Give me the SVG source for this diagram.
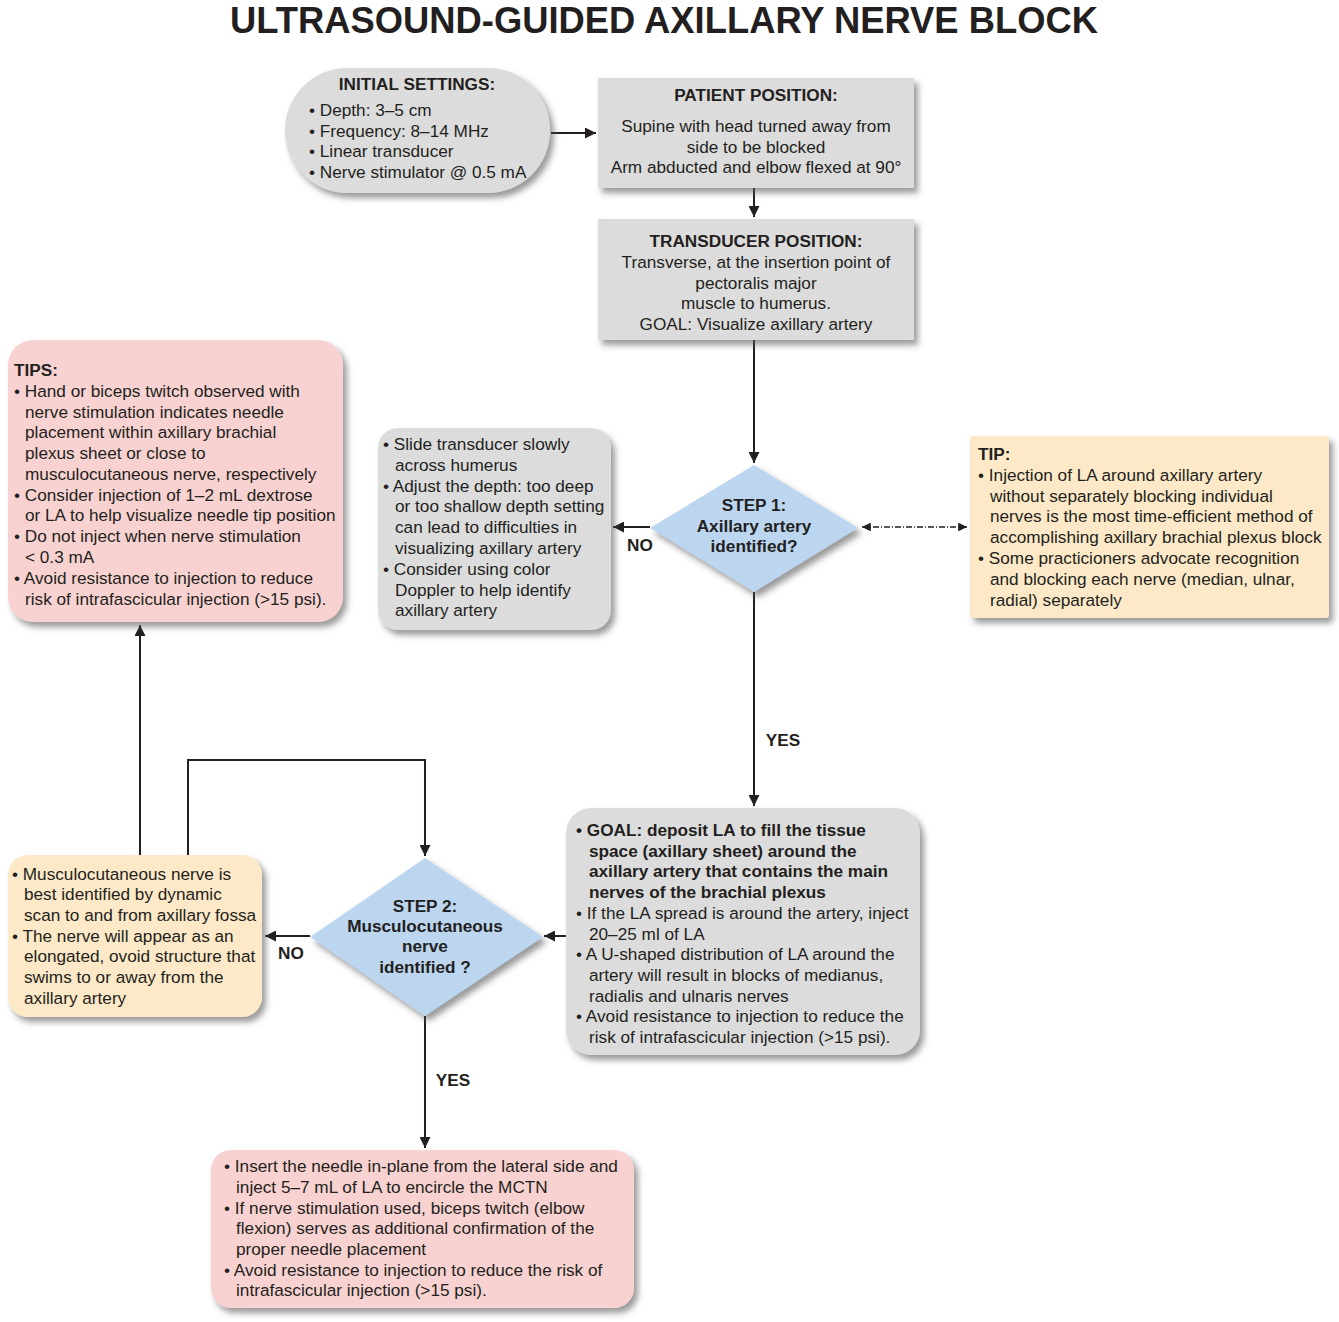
<svg xmlns="http://www.w3.org/2000/svg" width="1339" height="1322" viewBox="0 0 1339 1322">
<style>
text{font-family:"Liberation Sans",Arial,sans-serif;font-size:17.2px;fill:#231f20}
.b{font-weight:bold}
.c{text-anchor:middle}
.gray{fill:#dcdcdc}
.pink{fill:#f8d2d0}
.yel{fill:#fde9c7}
.blue{fill:#bcd6f0}
.ln{fill:none;stroke:#231f20;stroke-width:2}
</style>
<defs>
<filter id="sh" x="-10%" y="-10%" width="125%" height="130%">
<feDropShadow dx="4" dy="5" stdDeviation="3" flood-color="#555" flood-opacity="0.6"/>
</filter>
<marker id="ar" viewBox="0 0 10 10" refX="10" refY="5" markerWidth="5.5" markerHeight="5.5" orient="auto-start-reverse" markerUnits="strokeWidth">
<path d="M0,0 L10,5 L0,10 z" fill="#231f20"/>
</marker>
</defs>
<rect width="1339" height="1322" fill="#ffffff"/>
<text x="664" y="33" class="b c" style="font-size:36px" textLength="868" lengthAdjust="spacingAndGlyphs">ULTRASOUND-GUIDED AXILLARY NERVE BLOCK</text>

<g id="connectors">
<path class="ln" d="M551,133 H596" marker-end="url(#ar)"/>
<path class="ln" d="M754,188 V217" marker-end="url(#ar)"/>
<path class="ln" d="M754,340 V463" marker-end="url(#ar)"/>
<path class="ln" d="M650,527 H613" marker-end="url(#ar)"/>
<path class="ln" d="M862,527 H967" stroke-dasharray="6,2,1,2" marker-start="url(#ar)" marker-end="url(#ar)" style="stroke-width:1.6"/>
<path class="ln" d="M754,592 V806" marker-end="url(#ar)"/>
<path class="ln" d="M566,936 H544" marker-end="url(#ar)"/>
<path class="ln" d="M310,936 H265" marker-end="url(#ar)"/>
<path class="ln" d="M188,855 V760 H425 V856" marker-end="url(#ar)"/>
<path class="ln" d="M140,855 V625" marker-end="url(#ar)"/>
<path class="ln" d="M425,1016 V1148" marker-end="url(#ar)"/>
<text x="640" y="551" class="b c">NO</text>
<text x="783" y="746" class="b c">YES</text>
<text x="291" y="959" class="b c">NO</text>
<text x="453" y="1086" class="b c">YES</text>
</g>

<g id="initial-settings">
<rect x="285" y="68" width="265" height="125" rx="62" class="gray" filter="url(#sh)"/>
<text x="417" y="90" class="b c">INITIAL SETTINGS:</text>
<text x="309" y="116">• Depth: 3–5 cm</text>
<text x="309" y="137">• Frequency: 8–14 MHz</text>
<text x="309" y="157">• Linear transducer</text>
<text x="309" y="178">• Nerve stimulator @ 0.5 mA</text>
</g>

<g id="patient-position">
<rect x="598" y="78" width="316" height="110" class="gray" filter="url(#sh)"/>
<text x="756" y="101" class="b c">PATIENT POSITION:</text>
<text x="756" y="132" class="c">Supine with head turned away from</text>
<text x="756" y="153" class="c">side to be blocked</text>
<text x="756" y="173" class="c">Arm abducted and elbow flexed at 90°</text>
</g>

<g id="transducer-position">
<rect x="598" y="219" width="316" height="121" class="gray" filter="url(#sh)"/>
<text x="756" y="247" class="b c">TRANSDUCER POSITION:</text>
<text x="756" y="268" class="c">Transverse, at the insertion point of</text>
<text x="756" y="289" class="c">pectoralis major</text>
<text x="756" y="309" class="c">muscle to humerus.</text>
<text x="756" y="330" class="c">GOAL: Visualize axillary artery</text>
</g>

<g id="step1">
<polygon points="754,465 858,528 754,592 650,528" class="blue" filter="url(#sh)"/>
<text x="754" y="511" class="b c">STEP 1:</text>
<text x="754" y="532" class="b c">Axillary artery</text>
<text x="754" y="552" class="b c">identified?</text>
</g>

<g id="step1-no">
<rect x="378" y="428" width="233" height="202" rx="20" class="gray" filter="url(#sh)"/>
<text x="383" y="450">• Slide transducer slowly</text>
<text x="395" y="471">across humerus</text>
<text x="383" y="492">• Adjust the depth: too deep</text>
<text x="395" y="512">or too shallow depth setting</text>
<text x="395" y="533">can lead to difficulties in</text>
<text x="395" y="554">visualizing axillary artery</text>
<text x="383" y="575">• Consider using color</text>
<text x="395" y="596">Doppler to help identify</text>
<text x="395" y="616">axillary artery</text>
</g>

<g id="tip">
<rect x="970" y="436" width="359" height="182" rx="3" class="yel" filter="url(#sh)"/>
<text x="978" y="460" class="b">TIP:</text>
<text x="978" y="481">• Injection of LA around axillary artery</text>
<text x="990" y="502">without separately blocking individual</text>
<text x="990" y="522">nerves is the most time-efficient method of</text>
<text x="990" y="543">accomplishing axillary brachial plexus block</text>
<text x="978" y="564">• Some practicioners advocate recognition</text>
<text x="990" y="585">and blocking each nerve (median, ulnar,</text>
<text x="990" y="606">radial) separately</text>
</g>

<g id="tips">
<rect x="8" y="340" width="335" height="282" rx="25" class="pink" filter="url(#sh)"/>
<text x="14" y="376" class="b">TIPS:</text>
<text x="14" y="397">• Hand or biceps twitch observed with</text>
<text x="25" y="418">nerve stimulation indicates needle</text>
<text x="25" y="438">placement within axillary brachial</text>
<text x="25" y="459">plexus sheet or close to</text>
<text x="25" y="480">musculocutaneous nerve, respectively</text>
<text x="14" y="501">• Consider injection of 1–2 mL dextrose</text>
<text x="25" y="521">or LA to help visualize needle tip position</text>
<text x="14" y="542">• Do not inject when nerve stimulation</text>
<text x="25" y="563">&lt; 0.3 mA</text>
<text x="14" y="584">• Avoid resistance to injection to reduce</text>
<text x="25" y="605">risk of intrafascicular injection (&gt;15 psi).</text>
</g>

<g id="goal">
<rect x="566" y="808" width="354" height="247" rx="25" class="gray" filter="url(#sh)"/>
<text x="576" y="836" class="b">• GOAL: deposit LA to fill the tissue</text>
<text x="589" y="857" class="b">space (axillary sheet) around the</text>
<text x="589" y="877" class="b">axillary artery that contains the main</text>
<text x="589" y="898" class="b">nerves of the brachial plexus</text>
<text x="576" y="919">• If the LA spread is around the artery, inject</text>
<text x="589" y="940">20–25 ml of LA</text>
<text x="576" y="960">• A U-shaped distribution of LA around the</text>
<text x="589" y="981">artery will result in blocks of medianus,</text>
<text x="589" y="1002">radialis and ulnaris nerves</text>
<text x="576" y="1022">• Avoid resistance to injection to reduce the</text>
<text x="589" y="1043">risk of intrafascicular injection (&gt;15 psi).</text>
</g>

<g id="step2">
<polygon points="425,858 543,937 425,1016 310,937" class="blue" filter="url(#sh)"/>
<text x="425" y="912" class="b c">STEP 2:</text>
<text x="425" y="932" class="b c">Musculocutaneous</text>
<text x="425" y="952" class="b c">nerve</text>
<text x="425" y="973" class="b c">identified ?</text>
</g>

<g id="step2-no">
<rect x="8" y="855" width="254" height="162" rx="20" class="yel" filter="url(#sh)"/>
<text x="12" y="880">• Musculocutaneous nerve is</text>
<text x="24" y="900">best identified by dynamic</text>
<text x="24" y="921">scan to and from axillary fossa</text>
<text x="12" y="942">• The nerve will appear as an</text>
<text x="24" y="962">elongated, ovoid structure that</text>
<text x="24" y="983">swims to or away from the</text>
<text x="24" y="1004">axillary artery</text>
</g>

<g id="step2-yes">
<rect x="211" y="1150" width="423" height="158" rx="20" class="pink" filter="url(#sh)"/>
<text x="224" y="1172">• Insert the needle in-plane from the lateral side and</text>
<text x="236" y="1193">inject 5–7 mL of LA to encircle the MCTN</text>
<text x="224" y="1214">• If nerve stimulation used, biceps twitch (elbow</text>
<text x="236" y="1234">flexion) serves as additional confirmation of the</text>
<text x="236" y="1255">proper needle placement</text>
<text x="224" y="1276">• Avoid resistance to injection to reduce the risk of</text>
<text x="236" y="1296">intrafascicular injection (&gt;15 psi).</text>
</g>
</svg>
